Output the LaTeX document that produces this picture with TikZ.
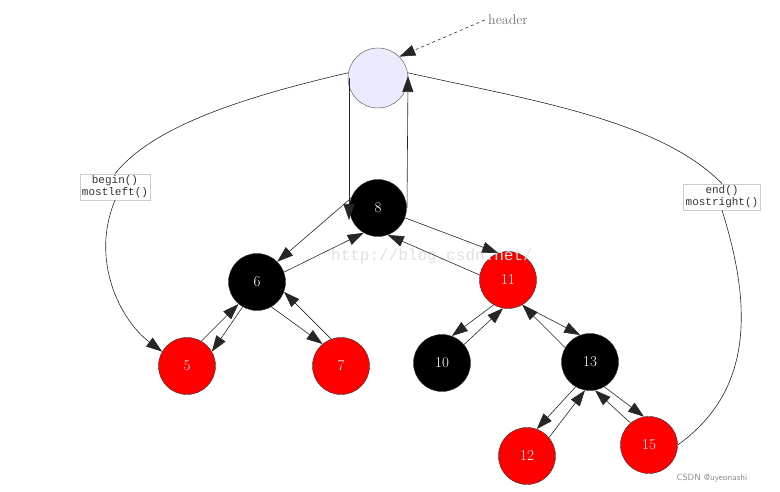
\documentclass[tikz,border=0pt]{standalone}
\usepackage{fontspec}
\newfontfamily\monof{Liberation Mono}
\usetikzlibrary{arrows.meta}
\begin{document}
\begin{tikzpicture}[x=1pt,y=-1pt,
  rb/.style={circle,draw=black!80,minimum size=57pt,inner sep=0pt,text=white,font=\fontsize{15}{15}\selectfont},
  red/.style={rb,fill=red},
  blk/.style={rb,fill=black},
  ar/.style={-{Triangle[length=16pt,width=11pt]},black!85,line width=0.6pt},
  lbl/.style={draw=black!20,fill=white,font=\monof\fontsize{11}{12}\selectfont,align=center,inner sep=2pt,text=black!80}]
\useasboundingbox (0,0) rectangle (780,492);
\node[rb,fill=blue!8!white,draw=black!70,minimum size=60pt] (h) at (378,78) {};
\node[blk] (n8) at (378,208) {8};
\node[blk] (n6) at (257,282) {6};
\node[red] (n11) at (508,280) {11};
\node[red] (n5) at (187,366) {5};
\node[red] (n7) at (341,366) {7};
\node[blk] (n10) at (442,363) {10};
\node[blk] (n13) at (590,362) {13};
\node[red] (n12) at (527,456) {12};
\node[red] (n15) at (649,445) {15};
\node[font=\fontsize{14}{14}\selectfont,text=black!55] (hd) at (508,20) {header};
\node[font=\monof\fontsize{16}{16}\selectfont,text=black!12] (wm) at (432,256) {http://blog.csdn.net/};
\node[font=\fontsize{9}{9}\selectfont\sffamily,text=black!45] (cs) at (712,478) {CSDN @uyeonashi};
\node[lbl] (lb) at (115,187) {begin()\\mostleft()};
\node[lbl] (le) at (722,197) {end()\\mostright()};
\draw[ar,dashed] (hd.west) -- (h.north east);
\draw[ar] ([xshift=-29pt]h.center) -- ([xshift=-29pt,yshift=-12pt]n8.center);
\draw[ar] ([xshift=29pt]n8.center) -- ([xshift=30pt,yshift=2pt]h.center);
\draw[ar] (n8.160) -- (n6.45);
\draw[ar] (n6.20) -- (n8.240);
\draw[ar] (n8.-20) -- (n11.110);
\draw[ar] (n11.170) -- (n8.-70);
\draw[ar] (n6.240) -- (n5.30);
\draw[ar] (n5.60) -- (n6.230);
\draw[ar] (n6.300) -- (n7.130);
\draw[ar] (n7.110) -- (n6.-20);
\draw[ar] (n11.240) -- (n10.70);
\draw[ar] (n10.40) -- (n11.260);
\draw[ar] (n11.300) -- (n13.110);
\draw[ar] (n13.150) -- (n11.-60);
\draw[ar] (n13.240) -- (n12.70);
\draw[ar] (n12.40) -- (n13.260);
\draw[ar] (n13.-60) -- (n15.100);
\draw[ar] (n15.130) -- (n13.-80);
\draw[black!85,line width=0.6pt] (h.170) .. controls (230,100) and (150,130) .. (lb.north);
\draw[ar] (lb.south) .. controls (90,260) and (120,320) .. (n5.150);
\draw[black!85,line width=0.6pt] (h.10) .. controls (530,100) and (660,120) .. (le.north);
\draw[black!85,line width=0.6pt] (le.south) .. controls (760,330) and (740,400) .. (n15.0);
\end{tikzpicture}
\end{document}
